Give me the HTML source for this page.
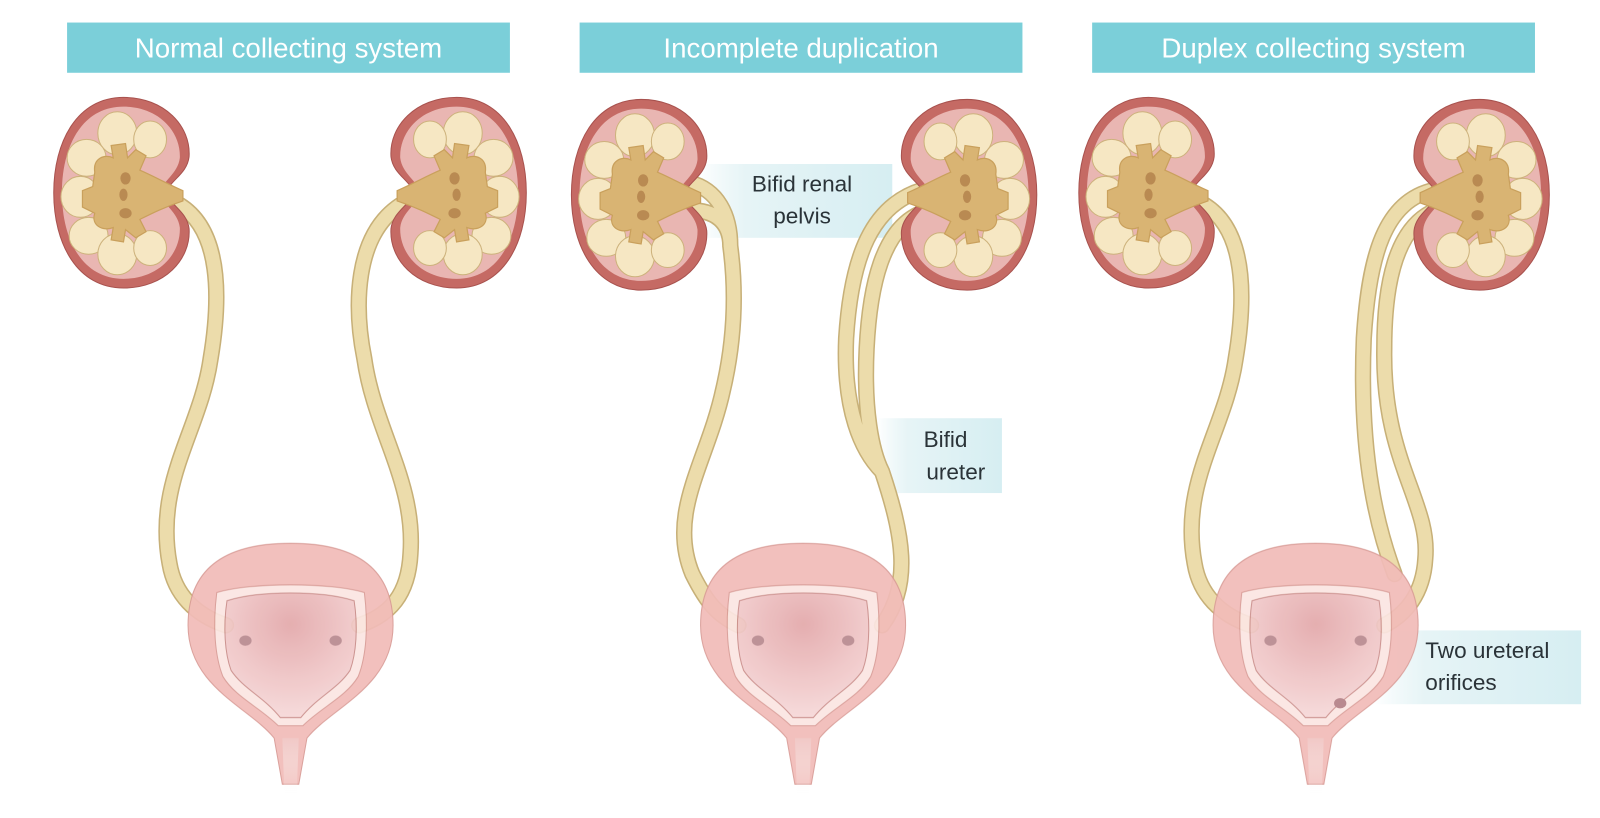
<!DOCTYPE html>
<html><head><meta charset="utf-8"><style>
html,body{margin:0;padding:0;background:#fff;width:1600px;height:818px;overflow:hidden}
svg{display:block}
</style></head><body>
<svg width="1600" height="818" viewBox="0 0 1560 798" xmlns="http://www.w3.org/2000/svg" font-family="Liberation Sans, sans-serif">
<defs>
<linearGradient id="lab" x1="0" x2="1" y1="0" y2="0">
<stop offset="0" stop-color="#dff1f4" stop-opacity="0"/><stop offset="0.25" stop-color="#e6f4f6"/><stop offset="1" stop-color="#d6eef2"/></linearGradient>
<radialGradient id="lum" cx="0.5" cy="0.25" r="0.8"><stop offset="0" stop-color="#e4a9ab"/><stop offset="1" stop-color="#f8dcdc"/></radialGradient>
<linearGradient id="ure" x1="0" x2="0" y1="0" y2="1"><stop offset="0" stop-color="#f0c4c2"/><stop offset="1" stop-color="#fff" stop-opacity="0"/></linearGradient>
<g id="kid">
<path d="M0,-93 C40,-93 66,-65 64,-35 C62,-18 45,-12 42,0 C45,12 62,18 64,35 C66,65 40,93 0,93 C-45,93 -68,50 -68,0 C-68,-50 -45,-93 0,-93Z" fill="#c56a64" stroke="#a8524e" stroke-width="1"/>
<path d="M0,-84 C34,-84 56,-60 55,-34 C53,-18 38,-12 36,0 C38,12 53,18 55,34 C56,60 34,84 0,84 C-40,84 -60,46 -60,0 C-60,-46 -40,-84 0,-84Z" fill="#e9b6b2"/>
<g fill="#f6e7c3" stroke="#cdb27c" stroke-width="1">
<ellipse cx="-6" cy="-58" rx="19" ry="21"/>
<ellipse cx="26" cy="-52" rx="16" ry="18"/>
<ellipse cx="-36" cy="-34" rx="19" ry="18"/>
<ellipse cx="-42" cy="4" rx="19" ry="20"/>
<ellipse cx="-34" cy="42" rx="19" ry="18"/>
<ellipse cx="-6" cy="60" rx="19" ry="20"/>
<ellipse cx="26" cy="54" rx="16" ry="17"/>
</g>
<path d="M-28,-20 C-30,-34 -18,-38 -10,-34 L-12,-46 L2,-48 L4,-34 L12,-42 L22,-36 L16,-22 C30,-16 40,-10 58,-2 L58,8 C40,14 28,20 16,26 L22,38 L12,44 L2,36 L0,48 L-12,46 L-10,34 C-20,38 -32,32 -28,20 L-40,14 L-40,-2 L-30,-6 Z" fill="#d9b473" stroke="#c9a05c" stroke-width="1.2"/>
<g fill="#b98a52"><ellipse cx="2" cy="-14" rx="5" ry="6"/><ellipse cx="0" cy="2" rx="4" ry="6"/><ellipse cx="2" cy="20" rx="6" ry="5"/></g>
</g>
<g id="bl">
<path d="M-100,80 C-100,15 -50,0 0,0 C50,0 100,15 100,80 C100,140 40,160 16,190 L8,235 L-8,235 L-16,190 C-40,160 -100,140 -100,80Z" fill="#f2bcb8" stroke="#d89a95" stroke-width="1"/>
<path d="M-72,48 C-40,38 40,38 72,48 C76,80 74,110 66,130 C54,150 30,160 12,178 L-12,178 C-30,160 -54,150 -66,130 C-74,110 -76,80 -72,48Z" fill="#fbe6e2" stroke="#d89a95"/>
<path d="M-62,56 C-30,46 30,46 62,56 C66,82 64,108 58,124 C46,142 26,150 10,170 L-10,170 C-26,150 -46,142 -58,124 C-64,108 -66,82 -62,56Z" fill="url(#lum)" stroke="#c98b88"/>
<path d="M-8,190 L-6,245 L6,245 L8,190Z" fill="url(#ure)"/>
<ellipse cx="-44" cy="95" rx="6" ry="5" fill="#b98a90"/>
<ellipse cx="44" cy="95" rx="6" ry="5" fill="#b98a90"/>
</g>
</defs>

<g fill="#7bcfd9"><rect x="65" y="22" width="432" height="49"/><rect x="565" y="22" width="432" height="49"/><rect x="1065" y="22" width="432" height="49"/></g>
<g fill="#fff" font-size="27" text-anchor="middle"><text x="281" y="56">Normal collecting system</text><text x="781" y="56">Incomplete duplication</text><text x="1281" y="56">Duplex collecting system</text></g>

<rect x="680" y="160" width="190" height="72" fill="url(#lab)"/>
<rect x="855" y="408" width="122" height="73" fill="url(#lab)"/>
<rect x="1340" y="615" width="202" height="72" fill="url(#lab)"/>

<g fill="none" stroke-linecap="round">
<g stroke="#c7b078" stroke-width="16">
<path d="M175,200 C215,225 215,290 205,350 C195,420 150,470 165,550 C170,580 190,600 220,610"/>
<path d="M390,200 C345,230 345,300 355,350 C365,420 405,470 400,540 C398,580 380,600 350,610"/>
<path d="M672,178 C700,185 712,210 712,240 M672,205 C695,205 712,215 712,240 C720,300 712,350 705,380 C690,450 650,500 675,560 C690,590 700,600 720,610"/>
<path d="M900,185 C850,200 830,250 825,330 C822,400 840,440 860,460 M900,207 C860,222 848,280 845,340 C842,400 850,440 860,460 C880,520 890,570 860,610"/>
<path d="M1175,200 C1215,225 1215,290 1205,350 C1195,420 1150,470 1165,550 C1170,580 1190,600 1220,610"/>
<path d="M1400,185 C1350,195 1335,250 1330,330 C1325,450 1345,520 1360,560"/>
<path d="M1400,205 C1360,222 1350,280 1350,340 C1348,450 1395,490 1390,545 C1388,580 1370,600 1350,610"/>
</g>
<g stroke="#ecdcab" stroke-width="13">
<path d="M175,200 C215,225 215,290 205,350 C195,420 150,470 165,550 C170,580 190,600 220,610"/>
<path d="M390,200 C345,230 345,300 355,350 C365,420 405,470 400,540 C398,580 380,600 350,610"/>
<path d="M672,178 C700,185 712,210 712,240 M672,205 C695,205 712,215 712,240 C720,300 712,350 705,380 C690,450 650,500 675,560 C690,590 700,600 720,610"/>
<path d="M900,185 C850,200 830,250 825,330 C822,400 840,440 860,460 M900,207 C860,222 848,280 845,340 C842,400 850,440 860,460 C880,520 890,570 860,610"/>
<path d="M1175,200 C1215,225 1215,290 1205,350 C1195,420 1150,470 1165,550 C1170,580 1190,600 1220,610"/>
<path d="M1400,185 C1350,195 1335,250 1330,330 C1325,450 1345,520 1360,560"/>
<path d="M1400,205 C1360,222 1350,280 1350,340 C1348,450 1395,490 1390,545 C1388,580 1370,600 1350,610"/>
</g>
</g>

<use href="#kid" transform="translate(120,188)"/>
<use href="#kid" transform="translate(445,188) scale(-1,1)"/>
<use href="#kid" transform="translate(625,190)"/>
<use href="#kid" transform="translate(943,190) scale(-1,1)"/>
<use href="#kid" transform="translate(1120,188)"/>
<use href="#kid" transform="translate(1443,190) scale(-1,1)"/>

<g opacity="0.93">
<use href="#bl" transform="translate(283,530)"/>
<use href="#bl" transform="translate(783,530)"/>
<use href="#bl" transform="translate(1283,530)"/>
</g>
<ellipse cx="1307" cy="686" rx="6" ry="5" fill="#b98a90"/>

<g fill="#2a3338" font-size="22" text-anchor="middle">
<text x="782" y="187">Bifid renal</text><text x="782" y="218">pelvis</text>
<text x="922" y="436">Bifid</text><text x="932" y="468">ureter</text>
</g>
<g fill="#2a3338" font-size="22"><text x="1390" y="642">Two ureteral</text><text x="1390" y="673">orifices</text></g>
</svg>
</body></html>
